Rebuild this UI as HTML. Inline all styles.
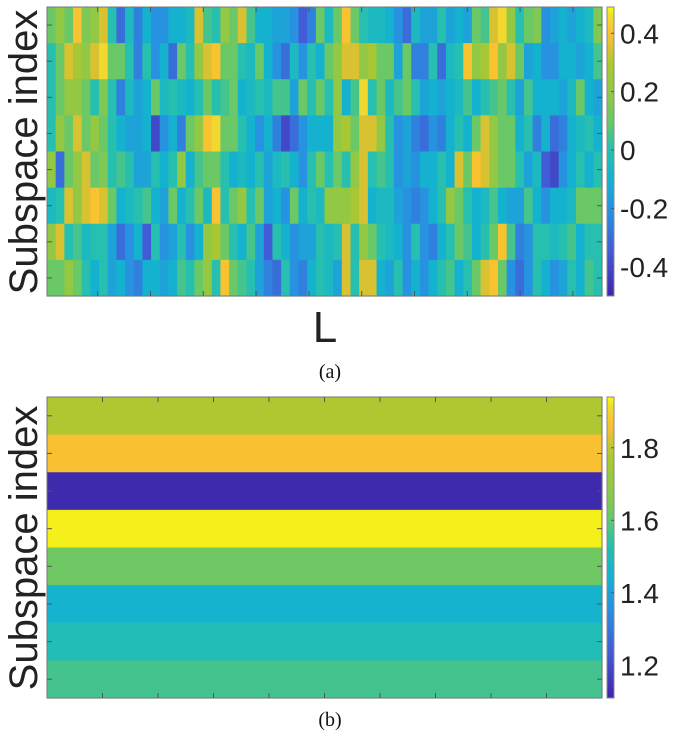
<!DOCTYPE html>
<html><head><meta charset="utf-8"><style>
body{margin:0;background:#fff;width:685px;height:738px;overflow:hidden;font-family:"Liberation Sans",sans-serif}
svg{display:block}
</style></head><body>
<svg id="fig" width="685" height="738">
<g id="a"></g>
<g id="b"></g>
<text x="37" y="152" transform="rotate(-90 37 152)" text-anchor="middle" font-size="40" fill="#222">Subspace index</text>
<text x="325" y="342" text-anchor="middle" font-size="44" fill="#222">L</text>
<text x="330" y="378" text-anchor="middle" font-size="20" font-family="Liberation Serif,serif" fill="#111">(a)</text>
<text x="37" y="548" transform="rotate(-90 37 548)" text-anchor="middle" font-size="40" fill="#222">Subspace index</text>
<text x="330" y="726" text-anchor="middle" font-size="20" font-family="Liberation Serif,serif" fill="#111">(b)</text>
</svg>
<script>
const rowsA=[
[.1,.2,.1,.4,.15,.2,.35,0,-.3,-.05,-.25,-.1,-.2,-.2,-.1,-.1,-.05,.35,.05,0,.2,.1,.35,.05,-.1,-.1,-.15,-.15,-.2,-.35,-.25,.1,-.05,.1,.4,.1,0,-.05,-.05,-.1,-.2,-.3,-.05,-.15,-.15,0,-.15,-.1,-.15,.1,.05,.35,.45,.2,0,.1,.15,-.2,-.15,-.1,-.15,-.1,-.05,.15],
[0,.1,.35,.28,.2,.35,.45,.1,.1,0,-.25,0,-.2,-.1,-.3,.1,0,.2,.35,.4,.1,.1,0,-.05,.1,-.1,-.2,-.3,-.05,-.2,0,-.1,.1,.2,.35,.35,.2,.28,.1,.1,-.15,.1,-.25,-.25,0,-.3,-.05,0,.4,.2,.28,.4,.2,.35,.1,-.15,-.1,-.2,-.2,-.1,-.1,-.15,-.1,.05],
[0,.1,.2,.2,.1,0,.15,0,-.25,-.05,-.15,-.1,.1,-.05,0,-.05,-.1,0,.1,0,.05,.1,-.1,-.05,0,-.05,.05,.05,-.15,.1,0,.1,0,.2,-.1,.05,.45,0,.1,-.05,.05,.1,0,-.15,-.1,-.15,-.1,-.05,.05,-.1,0,.05,.1,0,-.15,.05,-.1,-.1,-.1,-.15,-.05,.1,-.1,-.15],
[0,.2,.1,.35,.1,.2,.1,0,-.1,-.15,-.15,-.1,-.4,-.2,-.1,-.25,.1,.2,.4,.45,.1,.1,0,-.1,-.2,-.1,-.25,-.4,-.3,-.2,-.1,-.1,-.1,.2,.28,.1,.35,.35,.2,0,-.2,-.15,-.25,-.3,-.2,-.25,-.1,0,-.1,.1,.35,.2,.1,.1,-.1,0,-.25,-.1,-.3,-.25,-.1,-.05,0,-.1],
[.2,-.3,.1,.2,.35,.1,.15,0,.05,0,-.15,-.15,0,-.1,0,.2,-.1,.05,.1,.1,0,-.1,-.05,-.1,0,-.15,-.05,0,-.1,-.2,0,.1,0,.1,0,.2,.35,0,.05,0,-.2,-.15,-.2,-.1,-.1,0,-.1,.35,.1,.4,.35,.2,.1,.1,0,-.15,-.05,-.35,-.4,-.2,-.1,0,-.1,0],
[-.05,0,.35,.2,.35,.4,.35,.1,-.1,-.05,0,.05,-.1,-.15,.1,-.1,0,.1,-.05,.4,0,.1,.2,0,.1,-.15,-.1,-.2,.1,-.1,0,-.05,.2,.2,.2,.28,.35,-.1,-.05,-.05,-.15,-.2,-.25,-.2,-.1,0,.2,.1,0,-.1,-.05,.05,-.1,-.15,-.15,.05,-.1,-.2,-.1,-.1,-.05,.1,.1,.1],
[.2,.35,0,.05,-.05,0,0,-.15,-.3,-.2,-.1,-.35,0,-.2,-.15,0,-.2,-.1,.2,.28,.1,0,-.1,.05,-.15,-.35,0,-.1,-.2,-.15,-.15,0,-.05,0,.35,0,.2,.1,0,-.05,-.1,-.2,0,-.2,-.25,-.1,0,.1,.05,-.1,0,.1,.4,.05,-.25,-.2,0,0,-.05,0,.05,-.1,0,0],
[.1,.1,.2,.1,0,-.1,0,-.15,-.1,-.2,-.25,-.1,-.1,-.15,-.1,.05,0,.1,.2,0,.4,.1,.05,0,-.15,-.25,-.3,0,-.2,-.25,-.1,0,-.05,-.15,.35,0,.35,.35,-.1,-.15,0,-.2,-.1,-.2,-.1,0,.05,-.1,0,.1,.35,.4,.1,-.2,-.3,-.2,0,-.1,-.2,-.15,0,-.1,.05,0]];
const climA=[-0.5,0.49];
const cbTicksA=[0.4,0.2,0,-0.2,-0.4];
const cbLabelsA=["0.4","0.2","0","-0.2","-0.4"];
const valsB=[1.78,1.86,1.12,1.93,1.62,1.45,1.52,1.57];
const climB=[1.11,1.94];
const cbTicksB=[1.8,1.6,1.4,1.2];
const cbLabelsB=["1.8","1.6","1.4","1.2"];
const NS='http://www.w3.org/2000/svg';
const stops=[[0,62,38,168],[.15,66,90,215],[.3,40,145,225],[.4,20,178,208],[.5,35,190,180],[.55,65,195,145],[.6,105,200,105],[.7,145,200,70],[.8,170,200,50],[.9,250,190,50],[.97,240,220,45],[1,249,251,14]];
function cmap(t){t=Math.max(0,Math.min(1,t));for(let i=1;i<stops.length;i++){if(t<=stops[i][0]){const a=stops[i-1],b=stops[i],f=(t-a[0])/(b[0]-a[0]);return `rgb(${[1,2,3].map(k=>Math.round(a[k]+f*(b[k]-a[k]))).join(',')})`;}}return 'rgb(249,251,14)';}
function el(p,tag,at){const e=document.createElementNS(NS,tag);for(const k in at)e.setAttribute(k,at[k]);p.appendChild(e);return e;}
function panel(g,rows,clim,cbT,cbL,y0,y1,nm,tk0,tks){
 const x0=47,x1=602,nr=rows.length,rh=(y1-y0)/nr;
 rows.forEach((r,i)=>{const cw=(x1-x0)/r.length;r.forEach((v,j)=>{
  const c=el(g,'rect',{x:x0+j*cw,y:y0+i*rh,width:cw+0.6,height:rh+0.6,fill:cmap((v-clim[0])/(clim[1]-clim[0]))});
  
  
 });});
 const ax=el(g,'rect',{x:x0,y:y0,width:x1-x0,height:y1-y0,fill:'none',stroke:'#777','stroke-width':1});
 
 
 for(let k=0;k<10;k++){const x=tk0+tks*k;if(x>=x1-2)break;el(g,'line',{x1:x,x2:x,y1:y1,y2:y1-5,stroke:'#555'});el(g,'line',{x1:x,x2:x,y1:y0,y2:y0+5,stroke:'#555'});}
 for(let i=0;i<nr;i++){const y=y0+(i+.5)*rh;el(g,'line',{x1:x0,x2:x0+5,y1:y,y2:y,stroke:'#555'});el(g,'line',{x1:x1,x2:x1-5,y1:y,y2:y,stroke:'#555'});}
 const cx=607,cwid=7;
 for(let p=0;p<100;p++){const ya=y0+(y1-y0)*p/100;el(g,'rect',{x:cx,y:ya,width:cwid,height:(y1-y0)/100+0.5,fill:cmap(1-(p+.5)/100)});}
 const cb=el(g,'rect',{x:cx,y:y0,width:cwid,height:y1-y0,fill:'none',stroke:'#888'});
 
 
 cbT.forEach((v,i)=>{const y=y1-(v-clim[0])/(clim[1]-clim[0])*(y1-y0);
  el(g,'line',{x1:cx+cwid-3,x2:cx+cwid,y1:y,y2:y,stroke:'#555'});
  const t=el(g,'text',{x:620,y:y+10,'font-size':28,fill:'#222'});t.textContent=cbL[i];
  
  
 });
}
panel(document.getElementById('a'),rowsA,climA,cbTicksA,cbLabelsA,7,296,'a',97.7,52.8);
panel(document.getElementById('b'),valsB.map(v=>[v]),climB,cbTicksB,cbLabelsB,397,698,'b',102.5,55.5);
</script>
</body></html>
